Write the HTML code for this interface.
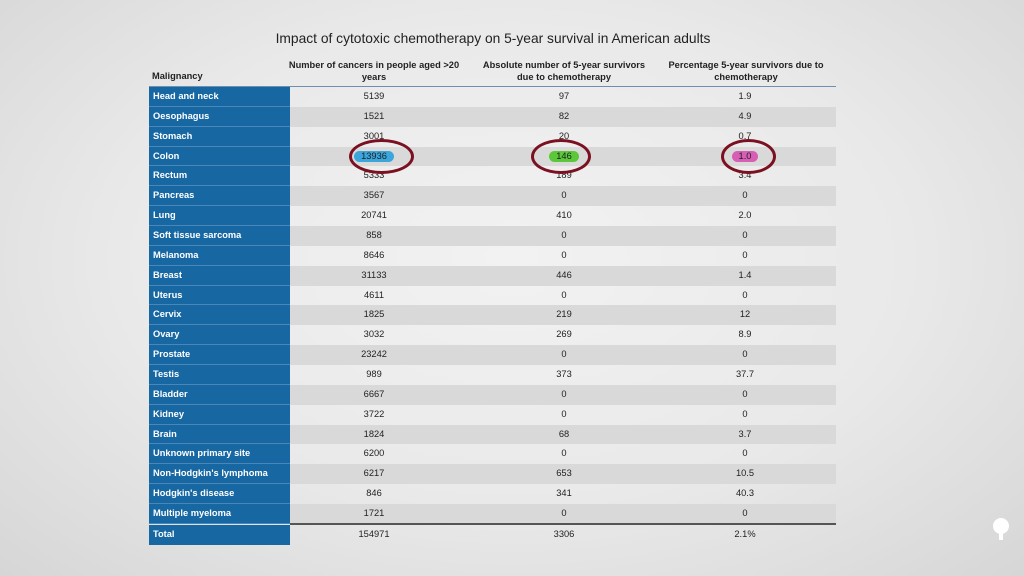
<!DOCTYPE html>
<html><head><style>
body{margin:0;width:1024px;height:576px;overflow:hidden;background:radial-gradient(ellipse at 50% 45%,#f2f2f2 0%,#e9e9e9 55%,#d6d6d6 100%);font-family:"Liberation Sans",sans-serif;position:relative}
.t{position:absolute;left:0;width:986px;text-align:center;top:31px;font-size:13.8px;color:#222}
.h{position:absolute;font-size:9.3px;font-weight:bold;color:#222;text-align:center;line-height:12px}
.row{position:absolute;left:149px;width:687px;height:19.86px;font-size:9.3px;color:#222}
.row .n{position:absolute;left:0;width:141px;height:100%;background:#1767a3;color:#fff;font-weight:bold;padding-left:4px;box-sizing:border-box;line-height:19.86px;border-bottom:1px solid #4a86b8}
.row span{position:absolute;line-height:19.86px;width:80px;text-align:center;margin-left:-40px}
.dk{background:#d9d9d9}
.pill{display:inline-block;line-height:11px;padding:0 7px;border-radius:6px}
.el{position:absolute;border:3.5px solid #7a1020;border-radius:50%;box-sizing:border-box}
</style></head><body>
<div class="t">Impact of cytotoxic chemotherapy on 5-year survival in American adults</div>
<div class="h" style="left:152px;top:70px;text-align:left">Malignancy</div>
<div class="h" style="left:284px;top:59px;width:180px">Number of cancers in people aged &gt;20 years</div>
<div class="h" style="left:479px;top:59px;width:170px">Absolute number of 5-year survivors due to chemotherapy</div>
<div class="h" style="left:663px;top:59px;width:166px">Percentage 5-year survivors due to chemotherapy</div>
<div style="position:absolute;left:149px;top:86px;width:687px;height:1px;background:#6f8fae"></div>
<div id="rows"></div>
<div style="position:absolute;left:290px;top:523px;width:546px;height:2px;background:#555"></div>
<div class="row" style="top:525px"><div class="n" style="border:none">Total</div><span style="left:225px">154971</span><span style="left:415px">3306</span><span style="left:596px">2.1%</span></div>
<div class="el" style="left:349px;top:139px;width:65px;height:35px"></div>
<div class="el" style="left:531px;top:139px;width:60px;height:35px"></div>
<div class="el" style="left:721px;top:139px;width:55px;height:35px"></div>
<svg style="position:absolute;left:990px;top:517px" width="22" height="24"><circle cx="11" cy="9" r="8" fill="#fff"/><rect x="9" y="14" width="4" height="9" fill="#fff"/></svg>
<script>
var d=[["Head and neck",5139,97,"1.9"],["Oesophagus",1521,82,"4.9"],["Stomach",3001,20,"0.7"],["Colon",13936,146,"1.0"],["Rectum",5333,189,"3.4"],["Pancreas",3567,0,"0"],["Lung",20741,410,"2.0"],["Soft tissue sarcoma",858,0,"0"],["Melanoma",8646,0,"0"],["Breast",31133,446,"1.4"],["Uterus",4611,0,"0"],["Cervix",1825,219,"12"],["Ovary",3032,269,"8.9"],["Prostate",23242,0,"0"],["Testis",989,373,"37.7"],["Bladder",6667,0,"0"],["Kidney",3722,0,"0"],["Brain",1824,68,"3.7"],["Unknown primary site",6200,0,"0"],["Non-Hodgkin's lymphoma",6217,653,"10.5"],["Hodgkin's disease",846,341,"40.3"],["Multiple myeloma",1721,0,"0"]];
var h="";d.forEach(function(r,i){var c=r[0]=="Colon";
h+='<div class="row'+(i%2?' dk':'')+'" style="top:'+(87+i*19.86)+'px"><div class="n">'+r[0]+'</div><span style="left:225px">'+(c?'<b class="pill" style="font-weight:normal;background:#3aa6dc">'+r[1]+'</b>':r[1])+'</span><span style="left:415px">'+(c?'<b class="pill" style="font-weight:normal;background:#5bc83a">'+r[2]+'</b>':r[2])+'</span><span style="left:596px">'+(c?'<b class="pill" style="font-weight:normal;background:#d85db4">'+r[3]+'</b>':r[3])+'</span></div>';});
document.getElementById("rows").innerHTML=h;
</script>
</body></html>
